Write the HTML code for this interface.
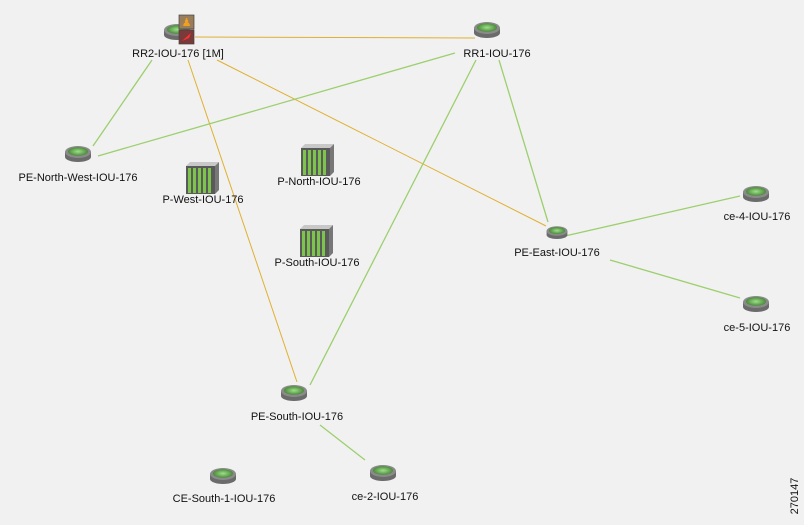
<!DOCTYPE html>
<html><head><meta charset="utf-8"><style>
html,body{margin:0;padding:0;background:#f1f1f1}
svg{display:block}
text{font-family:"Liberation Sans",sans-serif;font-size:11px;fill:#111;text-anchor:middle}
</style></head><body>
<svg width="804" height="525" viewBox="0 0 804 525" xmlns="http://www.w3.org/2000/svg">
<defs>
<radialGradient id="g" cx="50%" cy="50%" r="50%"><stop offset="0" stop-color="#9fe08a"/><stop offset="1" stop-color="#4a8a3a"/></radialGradient>
<g id="r">
<path d="M-13,0 v5 a13,5 0 0 0 26,0 v-5z" fill="#6b6b6b"/>
<ellipse cx="0" cy="0" rx="13" ry="6" fill="#8a8a8a"/>
<ellipse cx="0" cy="-0.5" rx="10" ry="4.3" fill="url(#g)"/>
</g>
<g id="s">
<polygon points="0,4 4,0 33,0 29,4" fill="#c8c8c8"/>
<polygon points="29,4 33,0 33,28 29,32" fill="#777"/>
<rect x="0" y="4" width="29" height="28" fill="#5a5a5a"/>
<rect x="2" y="6" width="3" height="25" fill="#7cc44c"/><rect x="7" y="6" width="3" height="25" fill="#7cc44c"/><rect x="12" y="6" width="3" height="25" fill="#7cc44c"/><rect x="17" y="6" width="3" height="25" fill="#7cc44c"/><rect x="22" y="6" width="3" height="25" fill="#7cc44c"/>
</g>
</defs>
<g stroke="#e0b030" stroke-width="1" fill="none">
<line x1="195" y1="37" x2="475" y2="38"/>
<line x1="188" y1="60" x2="297" y2="382"/>
<line x1="217" y1="60" x2="546" y2="226"/>
</g>
<g stroke="#9ccf6e" stroke-width="1.3" fill="none">
<line x1="152" y1="60" x2="93" y2="146"/>
<line x1="455" y1="53" x2="98" y2="156"/>
<line x1="476" y1="60" x2="310" y2="385"/>
<line x1="499" y1="60" x2="548" y2="222"/>
<line x1="565" y1="236" x2="740" y2="196"/>
<line x1="610" y1="260" x2="740" y2="298"/>
<line x1="320" y1="425" x2="365" y2="460"/>
</g>
<use href="#r" x="177" y="30"/>
<rect x="179" y="15" width="15" height="14" fill="#9a7d5a" stroke="#444" stroke-width="0.7"/>
<text x="186.5" y="26" style="fill:#f0a020;font-size:11px">♟</text>
<rect x="179" y="30" width="15" height="14" fill="#7a3a3a" stroke="#444" stroke-width="0.7"/>
<path d="M182,41 l9,-8 l-2,5z" fill="#ff3030"/>
<use href="#r" x="487" y="28"/>
<use href="#r" x="78" y="152"/>
<use href="#r" x="557" y="231" transform="translate(557 231) scale(0.8) translate(-557 -231)"/>
<use href="#r" x="756" y="192"/>
<use href="#r" x="756" y="302"/>
<use href="#r" x="294" y="391"/>
<use href="#r" x="223" y="474"/>
<use href="#r" x="383" y="471"/>
<use href="#s" x="186" y="162"/>
<use href="#s" x="301" y="144"/>
<use href="#s" x="300" y="225"/>
<text x="178" y="57">RR2-IOU-176 [1M]</text>
<text x="497" y="57">RR1-IOU-176</text>
<text x="78" y="181">PE-North-West-IOU-176</text>
<text x="203" y="203">P-West-IOU-176</text>
<text x="319" y="185">P-North-IOU-176</text>
<text x="317" y="266">P-South-IOU-176</text>
<text x="557" y="256">PE-East-IOU-176</text>
<text x="757" y="220">ce-4-IOU-176</text>
<text x="757" y="331">ce-5-IOU-176</text>
<text x="297" y="420">PE-South-IOU-176</text>
<text x="224" y="502">CE-South-1-IOU-176</text>
<text x="385" y="500">ce-2-IOU-176</text>
<text x="0" y="0" transform="translate(798 496) rotate(-90)" style="font-size:11px">270147</text>
</svg>
</body></html>
